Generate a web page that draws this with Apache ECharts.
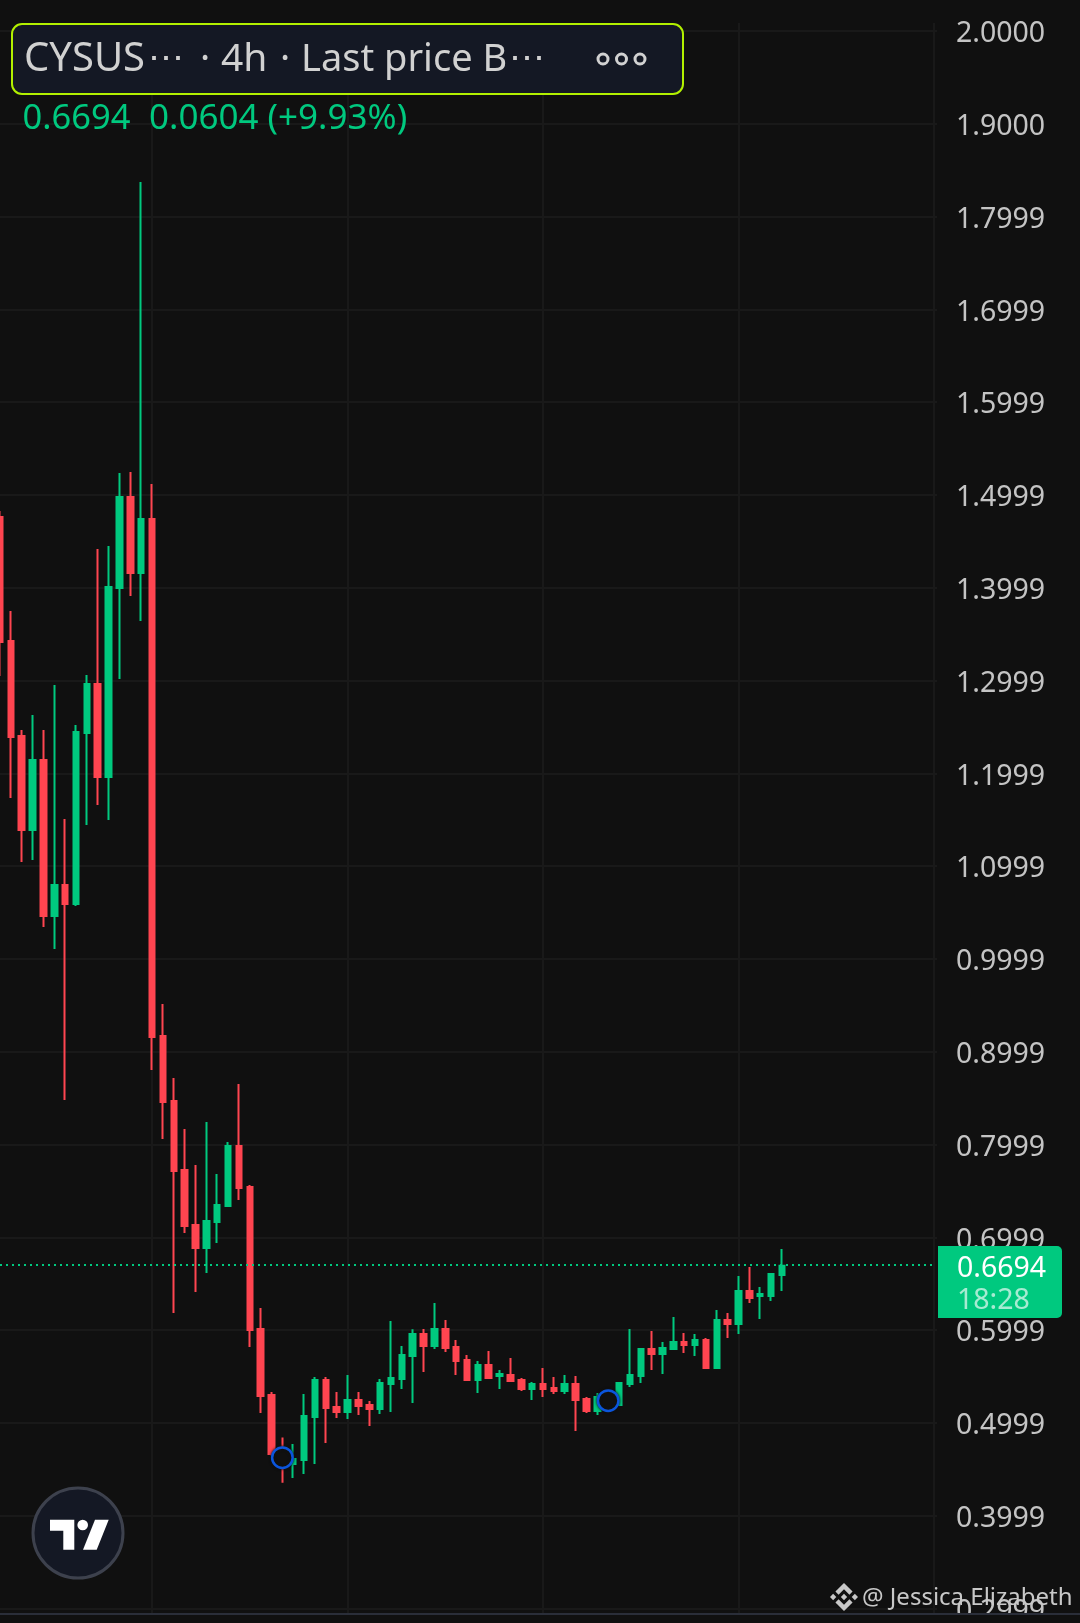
<!DOCTYPE html>
<html>
<head>
<meta charset="utf-8">
<style>html,body{margin:0;padding:0;background:#101010}#c{width:1080px;height:1623px}</style>
<script src="https://cdn.jsdelivr.net/npm/echarts@6/dist/echarts.min.js"></script>
</head>
<body>
<div id="c"></div>
<script>
const opens = [1.4763,1.3427,1.2403,1.1390,1.2144,1.0463,1.0797,1.0593,1.2435,1.2963,
1.1961,1.3998,1.4978,1.4159,1.4741,.9170,.8470,.7726,.7133,.6886,
.7166,.7338,.7985,.7543,.6013,.5302,.4673,.4558,.4601,.5064,
.5463,.5172,.5118,.5248,.5194,.5151,.5421,.5474,.5722,.5959,
.5830,.6013,.5819,.5679,.5464,.5625,.5507,.5518,.5464,.5367,
.5421,.5377,.5345,.5421,.5259,.5130,.5200,.5194,.5421,.5507,
.5798,.5744,.5798,.5873,.5841,.5895,.5593,.6110,.6067,.6423,
.6369,.6369,.6595];
const closes = [1.3416,1.2392,1.1390,1.2144,1.0463,1.0797,1.0593,1.2446,1.2963,1.1961,
1.4008,1.4978,1.4159,1.4741,.9159,.8459,.7715,.7123,.6886,.7177,
.7349,.7985,.7532,.6002,.5291,.4666,.4565,.4612,.5075,.5463,
.5161,.5118,.5248,.5183,.5151,.5431,.5485,.5733,.5959,.5830,
.6013,.5808,.5668,.5464,.5625,.5485,.5528,.5453,.5367,.5421,
.5367,.5345,.5421,.5248,.5130,.5280,.5290,.5431,.5517,.5798,
.5744,.5808,.5873,.5841,.5895,.5593,.6110,.6067,.6423,.6347,
.6390,.6606,.6694];
const lows = [1.3049,1.1735,1.1045,1.1067,1.0345,1.0108,.8481,1.0571,1.1444,1.1659,
1.1498,1.3017,1.3911,1.3642,.8804,.8060,.6185,.7047,.6411,.6616,
.6939,.7338,.7403,.5819,.5108,.4650,.4357,.4407,.4450,.4558,
.4784,.5054,.5043,.5086,.4967,.5097,.5119,.5367,.5216,.5550,
.5798,.5765,.5518,.5464,.5324,.5474,.5367,.5442,.5345,.5248,
.5280,.5313,.5313,.4914,.5108,.5086,.5170,.5194,.5388,.5431,
.5571,.5528,.5798,.5755,.5722,.5582,.5593,.5916,.5959,.6293,
.6121,.6315,.6423];
const highs = [1.4827,1.3750,1.2468,1.2629,1.2468,1.2952,1.1508,1.2521,1.3060,1.4418,
1.4450,1.5237,1.5248,1.8373,1.5118,.9515,.8717,.8168,.7780,.8243,
.7683,.8028,.8653,.7564,.6239,.5334,.4845,.4774,.5312,.5496,
.5496,.5334,.5517,.5334,.5237,.5474,.6099,.5830,.6010,.6013,
.6293,.6110,.5895,.5733,.5668,.5776,.5571,.5701,.5485,.5442,
.5593,.5496,.5518,.5507,.5280,.5324,.5300,.5431,.6013,.5808,
.5992,.5873,.6142,.5970,.5959,.5916,.6218,.6186,.6584,.6681,
.6466,.6617,.6875];
const tickLabels = ['2.0000','1.9000','1.7999','1.6999','1.5999','1.4999','1.3999','1.2999','1.1999','1.0999','0.9999','0.8999','0.7999','0.6999','0.5999','0.4999','0.3999','0.2999'];
const marks = [[26,0.4626],[56,0.5240]];
const lastPrice = 0.6694;
const categories = Array.from({length:87},(_,i)=>String(i));

const GREEN='#00C97F', RED='#FF4550', BG='#101010', GRID='#191919', FONT='"Noto Sans"';
const txt=(x,y,text,size,fill)=>({type:'text',z:100,silent:true,style:{x,y,text,fill,font:`${size}px ${FONT}`,verticalAlign:'middle',align:'left'}});
const bn=(points)=>({type:'polygon',z:102,silent:true,x:830,y:1583,scaleX:0.875,scaleY:0.875,shape:{points},style:{fill:'#C8C8C8'}});

const chart=echarts.init(document.getElementById('c'),null,{renderer:'canvas'});
chart.setOption({
  animation:false,
  backgroundColor:BG,
  grid:[
    {left:0,top:31,width:934,height:1577.6,outerBoundsMode:'none'},
    {left:0,top:23,width:934,height:1590,outerBoundsMode:'none'}
  ],
  xAxis:[
    {type:'category',data:categories,boundaryGap:false,gridIndex:0,
     axisLine:{show:false},axisTick:{show:false},axisLabel:{show:false},splitLine:{show:false}},
    {type:'category',data:categories,boundaryGap:false,gridIndex:1,
     axisLine:{show:false},axisTick:{show:false},axisLabel:{show:false},
     splitLine:{show:true,interval:(i)=>(i-14)%18===0,lineStyle:{color:GRID,width:2}}}
  ],
  yAxis:[
    {type:'value',position:'right',gridIndex:0,min:0.3,max:2.0,interval:0.1,scale:true,
     axisLine:{show:false},
     axisTick:{show:true,length:3,lineStyle:{color:GRID,width:2}},
     axisLabel:{margin:22,color:'#C4C4C4',fontSize:28.5,fontFamily:FONT,verticalAlign:'top',lineHeight:6,
       formatter:(v)=>tickLabels[Math.round((2-v)/0.1)]},
     splitLine:{show:true,lineStyle:{color:GRID,width:2}}},
    {type:'value',gridIndex:1,min:0,max:1,show:false}
  ],
  series:[
    {type:'candlestick',barWidth:6,xAxisIndex:0,yAxisIndex:0,
     data:opens.map((o,i)=>[o,closes[i],lows[i],highs[i]]),
     itemStyle:{color:GREEN,color0:RED,borderColor:GREEN,borderColor0:RED,borderWidth:2},
     markLine:{silent:true,symbol:'none',label:{show:false},animation:false,
       data:[{yAxis:lastPrice}],
       lineStyle:{color:GREEN,width:2,type:[2,4],opacity:1}}},
    {type:'scatter',data:marks,symbol:'circle',symbolSize:20.5,silent:true,z:5,xAxisIndex:0,yAxisIndex:0,
     itemStyle:{color:BG,borderColor:'#0B55DC',borderWidth:2.5,opacity:1,shadowBlur:3,shadowColor:BG}}
  ],
  graphic:[
    // header pill
    {type:'rect',z:100,silent:true,shape:{x:12,y:24,width:671,height:70,r:10},style:{fill:'#141824',stroke:'#B2F000',lineWidth:2}},
    txt(24,60,'CYSUS',40,'#D1D1D1'),
    txt(148,60,'⋯',36,'#D1D1D1'),
    txt(200,60,'·',38,'#D1D1D1'),
    txt(221,60,'4h',39,'#D1D1D1'),
    txt(280,60,'·',38,'#D1D1D1'),
    txt(301,60,'Last price B',38,'#D1D1D1'),
    txt(509,60,'⋯',36,'#D1D1D1'),
    {type:'circle',z:100,silent:true,shape:{cx:603,cy:59,r:5},style:{fill:'none',stroke:'#D1D1D1',lineWidth:3}},
    {type:'circle',z:100,silent:true,shape:{cx:621.5,cy:59,r:5},style:{fill:'none',stroke:'#D1D1D1',lineWidth:3}},
    {type:'circle',z:100,silent:true,shape:{cx:640,cy:59,r:5},style:{fill:'none',stroke:'#D1D1D1',lineWidth:3}},
    txt(22.5,119,'0.6694',34.5,GREEN),
    txt(149,119,'0.0604 (+9.93%)',35,GREEN),
    // last price tag
    {type:'rect',z:100,silent:true,shape:{x:938,y:1246,width:124,height:72,r:[0,5,5,0]},style:{fill:GREEN}},
    txt(957,1269,'0.6694',28.5,'#FFFFFF'),
    txt(957,1301,'18:28',28.5,'#A6EBD2'),
    // bottom band
    {type:'rect',z:100,silent:true,shape:{x:0,y:1615,width:1080,height:8},style:{fill:BG}},
    {type:'rect',z:100,silent:true,shape:{x:0,y:1613,width:1080,height:2},style:{fill:'#2A2E39'}},
    // logo
    {type:'circle',z:100,silent:true,shape:{cx:78,cy:1533,r:45},style:{fill:'#141824',stroke:'#3D414D',lineWidth:3}},
    {type:'polygon',z:101,silent:true,shape:{points:[[50,1519.7],[74.3,1519.7],[74.3,1549.7],[63.3,1549.7],[63.3,1530.7],[50,1530.7]]},style:{fill:'#fff'}},
    {type:'circle',z:101,silent:true,shape:{cx:82.7,cy:1525,r:5.3},style:{fill:'#fff'}},
    {type:'polygon',z:101,silent:true,shape:{points:[[95,1519.7],[108.7,1519.7],[96.7,1549.7],[83,1549.7]]},style:{fill:'#fff'}},
    // watermark
    bn([[9.8,13.4],[16,7.2],[22.2,13.4],[25.8,9.8],[16,0],[6.2,9.8]]),
    bn([[0,16],[3.6,12.4],[7.2,16],[3.6,19.6]]),
    bn([[9.8,18.6],[16,24.8],[22.2,18.6],[25.8,22.2],[16,32],[6.2,22.2]]),
    bn([[24.8,16],[28.4,12.4],[32,16],[28.4,19.6]]),
    bn([[19.6,16],[16,12.4],[12.4,16],[16,19.6]]),
    txt(862,1598,'@ Jessica Elizabeth',24,'#C8C8C8')
  ]
});
</script>
</body>
</html>
